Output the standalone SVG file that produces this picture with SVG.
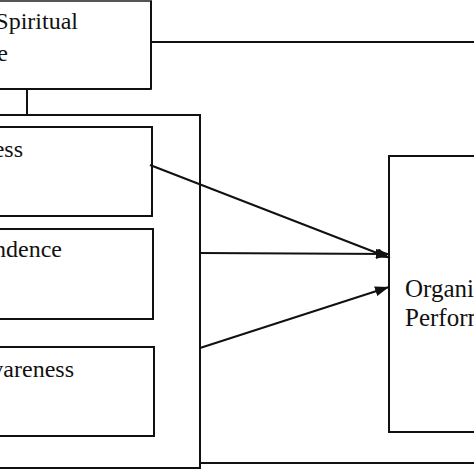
<svg xmlns="http://www.w3.org/2000/svg" width="474" height="474" viewBox="0 0 474 474">
<style>
.box{fill:#fff;stroke:#111;stroke-width:2}
.ln{fill:none;stroke:#111;stroke-width:2}
.t{font-family:"Liberation Serif","Times New Roman",serif;font-size:24px;fill:#111}
.tr{font-family:"Liberation Serif","Times New Roman",serif;font-size:25px;fill:#111}
</style>
<defs>
<marker id="ah" viewBox="0 0 14 10" refX="14" refY="5" markerWidth="14" markerHeight="10" markerUnits="userSpaceOnUse" orient="auto">
<path d="M0,0 L14,5 L0,10 Z" fill="#111"/>
</marker>
</defs>
<rect width="474" height="474" fill="#fff"/>
<g id="container"><rect class="box" x="-10" y="115" width="210" height="353"/></g>
<g id="top-box"><rect class="box" x="-10" y="1" width="161" height="88" style="stroke:#555"/>
<line class="ln" x1="151" y1="1" x2="151" y2="89"/>
<line class="ln" x1="-10" y1="89" x2="151" y2="89"/>
<text class="t" x="78" y="29" text-anchor="end">Spiritual</text>
<text class="t" x="8" y="61" text-anchor="end">e</text></g>
<g id="box1"><rect class="box" x="-10" y="127" width="162" height="89"/>
<text class="t" x="23" y="157" text-anchor="end">ess</text></g>
<g id="box2"><rect class="box" x="-10" y="229" width="163" height="90"/>
<text class="t" x="62" y="257" text-anchor="end">ndence</text></g>
<g id="box3"><rect class="box" x="-10" y="347" width="164" height="89"/>
<text class="t" x="74" y="377" text-anchor="end">vareness</text></g>
<g id="outcome"><rect class="box" x="389" y="156" width="100" height="276"/>
<text class="tr" x="405" y="297">Organi</text>
<text class="tr" x="405" y="326">Perform</text></g>
<g id="connectors">
<line class="ln" x1="151" y1="42" x2="474" y2="42"/>
<line class="ln" x1="27" y1="89" x2="27" y2="115"/>
<line class="ln" x1="200" y1="463" x2="474" y2="463"/>
<line class="ln" x1="150" y1="165" x2="390" y2="258" marker-end="url(#ah)"/>
<line class="ln" x1="200" y1="253" x2="390" y2="254" marker-end="url(#ah)"/>
<line class="ln" x1="200" y1="348" x2="389" y2="287" marker-end="url(#ah)"/>
</g>
</svg>
